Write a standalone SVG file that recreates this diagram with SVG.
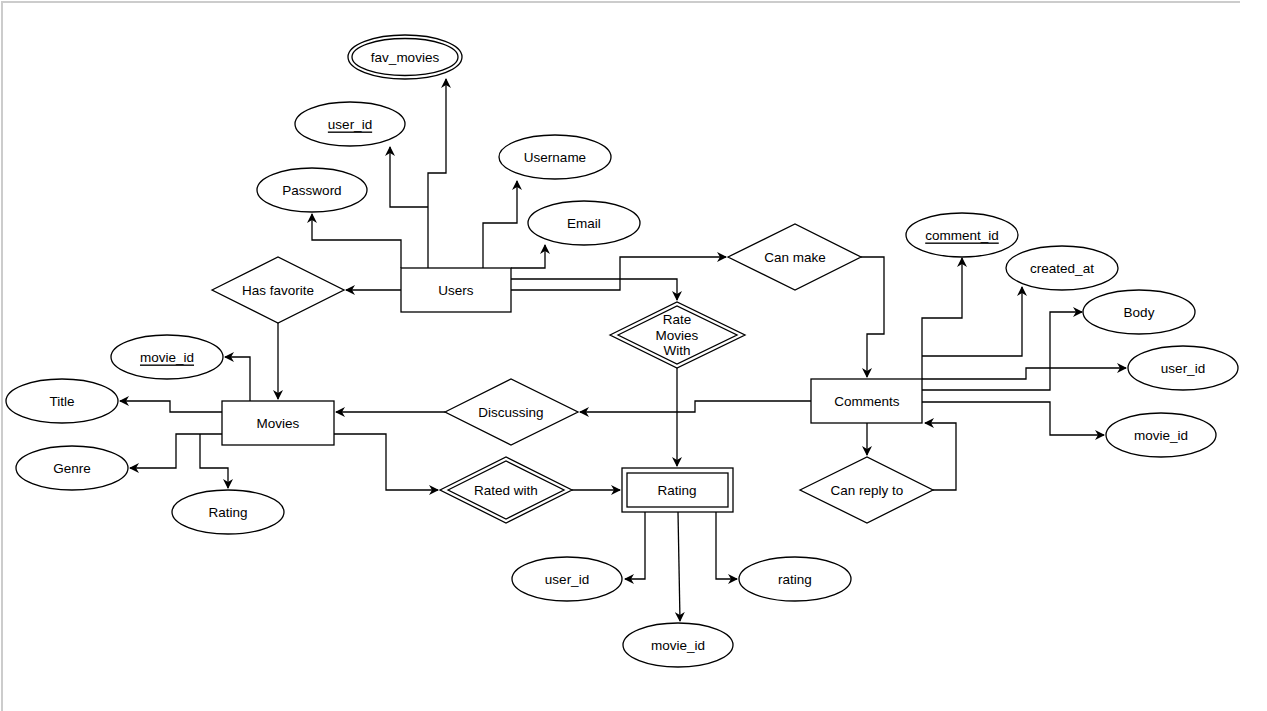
<svg xmlns="http://www.w3.org/2000/svg" width="1267" height="711" viewBox="0 0 1267 711">
<style>
.s{fill:#fff;stroke:#000;stroke-width:1.3}
.t{font-family:"Liberation Sans",Arial,sans-serif;font-size:13.5px;text-anchor:middle;dominant-baseline:central;fill:#000}
.u{text-decoration:underline}
.c path{fill:none;stroke:#000;stroke-width:1.3;marker-end:url(#a)}
</style>
<defs><marker id="a" markerWidth="10" markerHeight="10" refX="9" refY="5" orient="auto" markerUnits="userSpaceOnUse"><path d="M0,0 L10,5 L0,10 L3,5 Z" fill="#000"/></marker></defs>
<rect width="1267" height="711" fill="#fff"/>
<path d="M2,711 V2 H1240" fill="none" stroke="#ccc" stroke-width="2"/>
<g class="c">
<path d="M428,268 V173 H446 V79"/>
<path d="M428,207 H390 V147"/>
<path d="M401,268 V240 H312 V214"/>
<path d="M483,268 V223 H517 V181"/>
<path d="M511,268 H545 V245"/>
<path d="M401,290 H346"/>
<path d="M511,279 H677 V300"/>
<path d="M511,290 H620 V257 H726"/>
<path d="M861,257 H884 V334 H867 V377"/>
<path d="M922,379 V318 H962 V258"/>
<path d="M922,356 H1022 V287"/>
<path d="M922,379 H1026 V368 H1126"/>
<path d="M922,390 H1050 V312 H1082"/>
<path d="M922,402 H1050 V435 H1104"/>
<path d="M867,423 V455"/>
<path d="M933,490 H956 V423 H925"/>
<path d="M811,401 H695 V412 H580"/>
<path d="M445,412 H336"/>
<path d="M278,323 V399"/>
<path d="M250,401 V357 H225"/>
<path d="M222,412 H170 V401 H120"/>
<path d="M222,434 H176 V468 H130"/>
<path d="M200,434 V468 H228 V488"/>
<path d="M334,434 H386 V490 H438"/>
<path d="M572,490 H620"/>
<path d="M677,368 V466"/>
<path d="M645,512 V579 H625"/>
<path d="M678,512 L680,621"/>
<path d="M716,512 V579 H737"/>
</g>
<g id="users"><rect class="s" x="401" y="268" width="110" height="44"/><text class="t" x="456" y="290">Users</text></g>
<g id="fav_movies"><ellipse class="s" cx="405" cy="57" rx="57" ry="22"/><ellipse class="s" cx="405" cy="57" rx="53" ry="18.5"/><text class="t" x="405" y="57">fav_movies</text></g>
<g id="user_id_u"><ellipse class="s" cx="350" cy="124" rx="55" ry="22"/><text class="t u" x="350" y="124">user_id</text></g>
<g id="password"><ellipse class="s" cx="312" cy="190" rx="55" ry="22"/><text class="t" x="312" y="190">Password</text></g>
<g id="username"><ellipse class="s" cx="555" cy="157" rx="56" ry="22"/><text class="t" x="555" y="157">Username</text></g>
<g id="email"><ellipse class="s" cx="584" cy="223" rx="56" ry="22"/><text class="t" x="584" y="223">Email</text></g>
<g id="has_favorite"><path class="s" d="M212,290 L278,257 L344,290 L278,323 Z"/><text class="t" x="278" y="290">Has favorite</text></g>
<g id="can_make"><path class="s" d="M728,257 L795,224 L861,257 L795,290 Z"/><text class="t" x="795" y="257">Can make</text></g>
<g id="rate_movies_with"><path class="s" d="M610,335 L677,302 L745,335 L677,368 Z"/><path class="s" d="M618,335 L677,306 L737,335 L677,364 Z"/><text class="t" x="677" y="319">Rate</text><text class="t" x="677" y="335">Movies</text><text class="t" x="677" y="350">With</text></g>
<g id="comments"><rect class="s" x="811" y="379" width="111" height="44"/><text class="t" x="867" y="401">Comments</text></g>
<g id="comment_id"><ellipse class="s" cx="962" cy="235" rx="56" ry="22"/><text class="t u" x="962" y="235">comment_id</text></g>
<g id="created_at"><ellipse class="s" cx="1062" cy="268" rx="56" ry="22"/><text class="t" x="1062" y="268">created_at</text></g>
<g id="body"><ellipse class="s" cx="1139" cy="312" rx="56" ry="22"/><text class="t" x="1139" y="312">Body</text></g>
<g id="c_user_id"><ellipse class="s" cx="1183" cy="368" rx="55" ry="22"/><text class="t" x="1183" y="368">user_id</text></g>
<g id="c_movie_id"><ellipse class="s" cx="1161" cy="435" rx="55" ry="22"/><text class="t" x="1161" y="435">movie_id</text></g>
<g id="can_reply_to"><path class="s" d="M800,490 L867,457 L933,490 L867,523 Z"/><text class="t" x="867" y="490">Can reply to</text></g>
<g id="movies"><rect class="s" x="222" y="401" width="112" height="44"/><text class="t" x="278" y="423">Movies</text></g>
<g id="movie_id_u"><ellipse class="s" cx="167" cy="357" rx="56" ry="22"/><text class="t u" x="167" y="357">movie_id</text></g>
<g id="title"><ellipse class="s" cx="62" cy="401" rx="56" ry="22"/><text class="t" x="62" y="401">Title</text></g>
<g id="genre"><ellipse class="s" cx="72" cy="468" rx="56" ry="22"/><text class="t" x="72" y="468">Genre</text></g>
<g id="m_rating"><ellipse class="s" cx="228" cy="512" rx="56" ry="22"/><text class="t" x="228" y="512">Rating</text></g>
<g id="discussing"><path class="s" d="M445,412 L511,379 L578,412 L511,445 Z"/><text class="t" x="511" y="412">Discussing</text></g>
<g id="rated_with"><path class="s" d="M440,490 L506,457 L572,490 L506,523 Z"/><path class="s" d="M448,490 L506,461 L564,490 L506,519 Z"/><text class="t" x="506" y="490">Rated with</text></g>
<g id="rating"><rect class="s" x="622" y="468" width="111" height="44"/><rect class="s" x="627" y="473" width="101" height="34"/><text class="t" x="677" y="490">Rating</text></g>
<g id="r_user_id"><ellipse class="s" cx="567" cy="579" rx="55" ry="22"/><text class="t" x="567" y="579">user_id</text></g>
<g id="r_movie_id"><ellipse class="s" cx="678" cy="645" rx="55" ry="22"/><text class="t" x="678" y="645">movie_id</text></g>
<g id="r_rating"><ellipse class="s" cx="795" cy="579" rx="56" ry="22"/><text class="t" x="795" y="579">rating</text></g>
</svg>
